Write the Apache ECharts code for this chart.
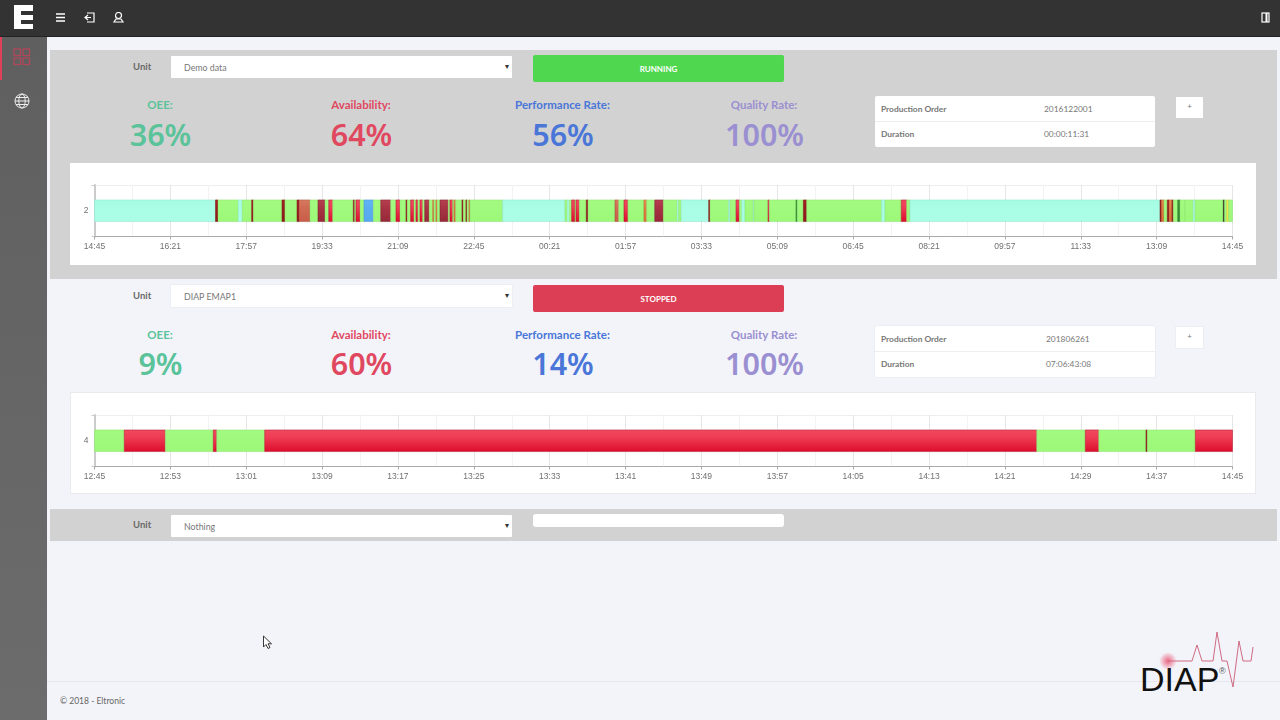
<!DOCTYPE html>
<html>
<head>
<meta charset="utf-8">
<title>DIAP</title>
<script src="https://cdn.jsdelivr.net/npm/echarts@6/dist/echarts.min.js"></script>
<style>
html,body{margin:0;padding:0;width:1280px;height:720px;overflow:hidden;background:#f3f4fa;font-family:Lato,"Noto Sans",sans-serif;color:#666}
div{position:absolute;box-sizing:border-box;white-space:nowrap}
svg{position:absolute}
.topbar{left:0;top:0;width:1280px;height:37px;background:#333;border-bottom:1px solid #222}
.side{left:0;top:37px;width:47px;height:683px;background:linear-gradient(#5f5f5f,#6c6c6c)}
.band{left:50px;width:1227px;background:#d2d2d2}
.unit{left:133px;font-size:9.5px;font-weight:700;color:#6a6a6a;line-height:14px}
.select{left:171px;width:341px;height:22px;background:#fff;font-size:8.8px;line-height:23px;padding-left:13px;color:#777;border-radius:1px}
.select span{position:absolute;right:3px;top:-1px;font-size:8px;color:#333}
.status{left:533px;width:251px;height:27px;border-radius:2px;color:#fff;font-size:8px;font-weight:700;text-align:center;line-height:28px}
.mlabel{width:200px;text-align:center;font-size:11.5px;font-weight:700;line-height:16px}
.mvalue{width:200px;text-align:center;font-size:30.5px;font-weight:600;line-height:36px;font-family:"Noto Sans",sans-serif}
.info{left:875px;width:280px;height:51px;background:#fff;border-radius:2px;font-size:8.4px}
.info .k{left:6px;font-weight:700;color:#777;line-height:12px}
.info .v{color:#777;line-height:12px}
.info .sep{left:0;width:280px;top:25px;height:1px;background:#eee}
.plus{left:1176px;width:27px;height:21px;background:#fff;text-align:center;font-size:8px;line-height:19px;color:#777}
.box{left:70px;width:1186px;height:102px;background:#fff}
.edge{box-shadow:0 0 0 1px #eceef4}
</style>
</head>
<body>
<div class="topbar"></div>
<div style="left:14px;top:5px;width:19px;height:24px;background:#fff"></div>
<div style="left:21px;top:11px;width:12px;height:4px;background:#333"></div>
<div style="left:21px;top:20px;width:12px;height:4px;background:#333"></div>
<svg style="left:55px;top:12px" width="70" height="12" fill="none" stroke="#fff" stroke-width="1.2">
  <path d="M1 2H10M1 5.5H10M1 9H10" stroke-width="1.5"/>
  <path d="M32 1H39V10H32M30 5.5H36M33 3L30 5.5L33 8"/>
  <circle cx="63.5" cy="3.5" r="3"/><path d="M59 10H68L66 7H61Z"/>
</svg>
<svg style="left:1261px;top:12px" width="10" height="11" fill="none" stroke="#fff" stroke-width="1.2"><rect x="1" y="1" width="7" height="9"/><path d="M5.5 1V10" stroke-width="2"/></svg>
<div class="side"></div>
<div style="left:0;top:37px;width:2px;height:43px;background:#e0405a"></div>
<svg style="left:13px;top:48px" width="18" height="18" fill="none" stroke="#b5465a" stroke-width="1.2"><rect x="1" y="1" width="6.5" height="6.5"/><rect x="10" y="1" width="6.5" height="6.5"/><rect x="1" y="10" width="6.5" height="6.5"/><rect x="10" y="10" width="6.5" height="6.5"/></svg>
<svg style="left:14px;top:93px" width="16" height="16" fill="none" stroke="#eee" stroke-width="1"><circle cx="8" cy="8" r="7"/><ellipse cx="8" cy="8" rx="3.2" ry="7"/><path d="M1 8H15M2 4.5H14M2 11.5H14"/></svg>

<div class="band" style="top:50px;height:229px"></div>
<div class="band" style="top:509px;height:32px"></div>
<div id="panels"></div>
<div id="panel3">
  <div class="unit" style="top:518px">Unit</div>
  <div class="select" style="top:515px">Nothing<span>▾</span></div>
  <div style="left:533px;top:514px;width:251px;height:13px;background:#fff;border-radius:3px"></div>
</div>
<div class="box" style="top:163px"><div id="chart1" style="left:0;top:0;width:1186px;height:102px"></div></div>
<div class="box" style="top:392px;border:1px solid #e9e9ee"><div id="chart2" style="left:-1px;top:-1px;width:1186px;height:102px"></div></div>

<div style="left:47px;top:681px;width:1233px;height:1px;background:#e6e7ee"></div>
<div style="left:60px;top:694px;font-size:8.5px;line-height:14px;color:#666">© 2018 - Eltronic</div>
<div style="left:1140px;top:660px;font-family:'Liberation Sans',sans-serif;font-size:34px;line-height:38px;color:#111">DIAP</div>
<div style="left:1219px;top:666px;font-family:'Liberation Sans',sans-serif;font-size:9px;line-height:10px;color:#555">®</div>
<svg style="left:1150px;top:625px" width="110" height="70" fill="none">
  <defs><radialGradient id="glow"><stop offset="0" stop-color="#e8385a" stop-opacity=".75"/><stop offset="1" stop-color="#e8385a" stop-opacity="0"/></radialGradient></defs>
  <circle cx="18" cy="36" r="9" fill="url(#glow)"/>
  <path d="M18 36H42L47 20L52 36H63L67 7L72 36H77L83 62L89 16L93 36H101L103 22" stroke="#cf6b82" stroke-width="1"/>
</svg>
<svg style="left:262px;top:635px" width="12" height="15"><path d="M1.5 1V12L4 9.5L6 13.5L8 12.5L6 8.8H9.5Z" fill="#fff" stroke="#222" stroke-width=".9"/></svg>

<script>
// panel values
var unitNames = ['Demo data', 'DIAP EMAP1'];
var statusTexts = ['RUNNING', 'STOPPED'];
var statusColors = ['#4fd84f', '#dc3f55'];
var metricNames = ['OEE:', 'Availability:', 'Performance Rate:', 'Quality Rate:'];
var metricColors = ['#5bc39a', '#e0485f', '#4a76d8', '#9a8fd0'];
var metricValues = [['36%', '64%', '56%', '100%'], ['9%', '60%', '14%', '100%']];
var orderNumbers = ['2016122001', '201806261'];
var durations = ['00:00:11:31', '07:06:43:08'];

// timeline 1, minutes since 14:45, one state per segment start
var demoTicks = ['14:45','16:21','17:57','19:33','21:09','22:45','00:21','01:57','03:33','05:09','06:45','08:21','09:57','11:33','13:09','14:45'];
var demoStarts = [
    0,153.1,156.3,182,187,198.9,201,237.3,241,256.3,
    258.8,272.7,282.8,291.7,296.4,301.4,327.5,329.3,330.9,336,
    341,352.8,362.2,374.8,381.5,386.6,394.2,395.8,400,404.3,
    406.8,409.3,411.9,415.3,417.8,423.6,428,429.6,432.1,433.8,
    437.2,447.7,449.8,453.3,454.9,457,465,466.7,470,471.4,
    473.9,475.2,516.5,595.4,598.3,600.8,603.8,608,609.3,613.5,
    622.3,624.5,658.6,663.3,670,675,695.3,698.7,708.9,719.8,
    737.5,739.2,742.5,777.2,778.9,802.5,804.2,811.8,816,819,
    823.1,833.7,834.5,852.3,853.9,887.7,889.3,897,901.2,996.1,
    1000.3,1020.9,1027.7,1031.9,1348.3,1350.2,1353.3,1357.5,1359.7,1363.5,
    1365.1,1370.7,1373.6,1379.9,1390.4,1392.6,1428.4,1429.9,1432.7,1435
];
var demoStates = [
    'T','B','G','T','G','B','G','B','G','B',
    'S','G','M','G','R','G','B','G','R','G',
    'L','G','M','G','R','G','B','G','R','G',
    'R','G','R','G','M','G','O','G','O','G',
    'M','G','R','G','O','G','B','G','B','G',
    'O','G','T','G','T','G','R','G','R','G',
    'B','G','S','G','R','G','O','G','M','G',
    'T','G','T','B','G','T','G','R','G','T',
    'G','T','G','R','G','K','G','B','G','T',
    'G','R','G','T','B','O','G','B','O','B',
    'G','K','G','G','T','G','N','G','Y','G'
];
var demoEnd = 1440;

// timeline 2, minutes since 12:45
var emapTicks = ['12:45','12:53','13:01','13:09','13:17','13:25','13:33','13:41','13:49','13:57','14:05','14:13','14:21','14:29','14:37','14:45'];
var emapStarts = [0,3.14,7.47,12.53,12.89,17.95,99.36,104.48,105.9,110.88,111.02,116.08];
var emapStates = ['G','R','G','R','G','R','G','R','G','B','G','R'];
var emapEnd = 120;

// top, body, bottom, border of each state's bar
var stateColors = {
    T: ['#a6fde4', '#a8fde4', '#aafee6', '#8fe3cc'],
    G: ['#a2fb80', '#a0fa7e', '#9cf878', '#8fe070'],
    R: ['#f04a60', '#ee3c54', '#dc0c2c', '#b01028'],
    M: ['#b84050', '#a83444', '#962838', '#7c2030'],
    B: ['#a82020', '#981c1c', '#8a1818', '#7a1414'],
    S: ['#d87a60', '#d06c54', '#c85c48', '#a85040'],
    L: ['#60b4f4', '#5caef0', '#58a8ee', '#4c90d0'],
    O: ['#e89050', '#e08044', '#d87038', '#b86030'],
    K: ['#3f9a3a', '#379232', '#2f8a2f', '#2a7a2a'],
    Y: ['#f4f050', '#f0ea48', '#eee440', '#d0c838'],
    N: ['#303010', '#282810', '#202010', '#202010']
};

function el(parent, cls, style, text) {
    var d = document.createElement('div');
    d.className = cls;
    d.style.cssText = style;
    if (text !== undefined) d.textContent = text;
    parent.appendChild(d);
    return d;
}

var centers = [160, 361, 562.5, 764];
var panels = document.getElementById('panels');
[0, 229].forEach(function (off, p) {
    var edge = p ? ' edge' : '';
    var lower = p ? 1 : 0;
    el(panels, 'unit', 'top:' + (60 + off) + 'px', 'Unit');
    var s = el(panels, 'select' + edge, 'top:' + (56 + off) + 'px', unitNames[p]);
    s.innerHTML += '<span>▾</span>';
    el(panels, 'status', 'top:' + (55 + off + lower) + 'px;background:' + statusColors[p], statusTexts[p]);
    metricNames.forEach(function (name, i) {
        el(panels, 'mlabel', 'top:' + (97 + off + lower) + 'px;left:' + (centers[i] - 100) + 'px;color:' + metricColors[i], name);
        el(panels, 'mvalue', 'top:' + (115.5 + off) + 'px;left:' + (centers[i] - 99.5) + 'px;color:' + metricColors[i], metricValues[p][i]);
    });
    var info = el(panels, 'info' + edge, 'top:' + (96 + off + lower) + 'px');
    el(info, 'k', 'top:7px', 'Production Order');
    el(info, 'k', 'top:32px', 'Duration');
    el(info, 'sep', '');
    el(info, 'v', 'top:7px;left:' + (p ? 171 : 169) + 'px', orderNumbers[p]);
    el(info, 'v', 'top:32px;left:' + (p ? 171 : 169) + 'px', durations[p]);
    el(panels, 'plus' + edge, 'top:' + (97 + off + lower) + 'px', '+');
});

function drawTimeline(id, yName, starts, states, end, ticks, gridTop) {
    var chart = echarts.init(document.getElementById(id));
    var interval = end / (ticks.length - 1);
    var rows = starts.map(function (s, i) {
        return [s, i + 1 < starts.length ? starts[i + 1] : end, 0];
    });
    chart.setOption({
        animation: false,
        grid: { left: 24.5, right: 23.5, top: gridTop, bottom: 101 - gridTop - 50.5 },
        xAxis: {
            type: 'value', min: 0, max: end, interval: interval,
            axisLine: { show: true, onZero: false, lineStyle: { color: '#aaa' } },
            axisTick: { show: true, length: 3, lineStyle: { color: '#aaa' } },
            axisLabel: {
                fontSize: 8.5, color: '#707070', margin: 6, hideOverlap: false,
                fontFamily: 'Liberation Sans',
                formatter: function (v) { return ticks[Math.round(v / interval)]; }
            },
            splitLine: { show: true, lineStyle: { color: '#e6e6e6' } },
            minorTick: { show: false, splitNumber: 2 },
            minorSplitLine: { show: true, lineStyle: { color: '#f3f3f3' } }
        },
        yAxis: {
            type: 'category', data: [yName],
            axisLine: { show: true, lineStyle: { color: '#ccc', width: 2 } },
            axisTick: { show: true, length: 3, lineStyle: { color: '#ccc' } },
            axisLabel: { fontSize: 8.5, color: '#707070', margin: 6, fontFamily: 'Liberation Sans' },
            splitLine: { show: true, lineStyle: { color: '#eee' } }
        },
        series: [{
            type: 'custom',
            encode: { x: [0, 1], y: 2 },
            data: rows,
            renderItem: function (params, api) {
                var a = api.coord([api.value(0), 0]);
                var b = api.coord([api.value(1), 0]);
                var h = api.size([0, 1])[1] * 0.42;
                var c = stateColors[states[params.dataIndex]];
                return {
                    type: 'rect',
                    shape: { x: a[0], y: a[1] - h / 2, width: b[0] - a[0], height: h },
                    style: {
                        fill: new echarts.graphic.LinearGradient(0, 0, 0, 1, [
                            { offset: 0, color: c[0] },
                            { offset: 0.35, color: c[1] },
                            { offset: 1, color: c[2] }
                        ]),
                        stroke: c[3],
                        lineWidth: 0.5
                    }
                };
            }
        }]
    });
    return chart;
}

drawTimeline('chart1', '2', demoStarts, demoStates, demoEnd, demoTicks, 22);
drawTimeline('chart2', '4', emapStarts, emapStates, emapEnd, emapTicks, 23);
</script>
</body>
</html>
